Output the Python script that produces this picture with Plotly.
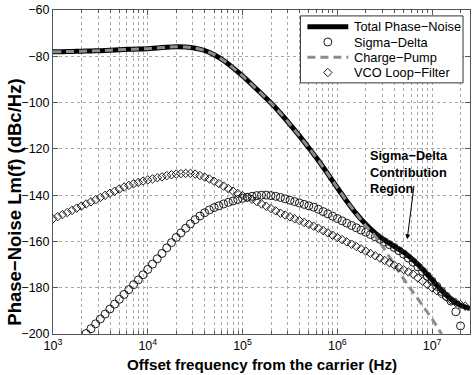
import plotly.graph_objects as go

# ---------------- data ----------------
# log10 of offset frequency (Hz) and phase-noise values (dBc/Hz)
total_logf = [3.0, 3.1, 3.2, 3.3, 3.4, 3.5, 3.6, 3.7, 3.8, 3.9,
              4.0, 4.1, 4.2, 4.3, 4.4, 4.5, 4.6, 4.7, 4.8, 4.9,
              5.0, 5.1, 5.2, 5.3, 5.4, 5.5, 5.6, 5.7, 5.8, 5.9,
              6.0, 6.1, 6.2, 6.3, 6.4, 6.5, 6.6, 6.7, 6.8, 6.9,
              7.0, 7.1, 7.2, 7.3, 7.4]
total_pn = [-78.0, -78.0, -77.9, -77.8, -77.7, -77.6, -77.4, -77.2, -77.0, -76.9,
            -76.7, -76.4, -76.1, -75.9, -76.0, -76.5, -77.5, -79.3, -81.8, -85.0,
            -88.5, -92.3, -96.2, -100.2, -104.6, -109.4, -114.4, -119.6, -125.0, -130.8,
            -136.8, -142.6, -148.0, -152.6, -156.4, -159.5, -162.1, -164.7, -168.0, -172.0,
            -176.6, -181.2, -185.0, -187.6, -189.0]

cp_logf = [3.0, 3.1, 3.2, 3.3, 3.4, 3.5, 3.6, 3.7, 3.8, 3.9,
           4.0, 4.1, 4.2, 4.3, 4.4, 4.5, 4.6, 4.7, 4.8, 4.9,
           5.0, 5.1, 5.2, 5.3, 5.4, 5.5, 5.6, 5.7, 5.8, 5.9,
           6.0, 6.1, 6.2, 6.3, 6.4, 6.5, 6.6, 6.7, 6.8, 6.9,
           7.0, 7.1]
cp_pn = [-78.0, -78.0, -77.9, -77.8, -77.7, -77.6, -77.4, -77.2, -77.0, -76.9,
         -76.7, -76.4, -76.1, -75.9, -76.0, -76.5, -77.5, -79.3, -81.8, -85.0,
         -88.5, -92.3, -96.2, -100.2, -104.6, -109.4, -114.4, -119.6, -125.0, -130.8,
         -136.8, -142.6, -148.0, -153.2, -157.8, -163.5, -169.9, -176.2, -182.0, -187.7,
         -193.5, -200.0]

sd_logf = [3.35, 3.40, 3.45, 3.50, 3.55, 3.60, 3.65, 3.70, 3.75, 3.80,
           3.85, 3.90, 3.95, 4.00, 4.05, 4.10, 4.15, 4.20, 4.25, 4.30,
           4.35, 4.40, 4.45, 4.50, 4.55, 4.60, 4.65, 4.70, 4.75, 4.80,
           4.85, 4.90, 4.95, 5.00, 5.05, 5.10, 5.15, 5.20, 5.25, 5.30,
           5.35, 5.40, 5.45, 5.50, 5.55, 5.60, 5.65, 5.70, 5.75, 5.80,
           5.85, 5.90, 5.95, 6.00, 6.05, 6.10, 6.15, 6.20, 6.25, 6.30,
           6.35, 6.40, 6.45, 6.50, 6.55, 6.60, 6.65, 6.70, 6.75, 6.80,
           6.85, 6.90, 6.95, 7.00, 7.05, 7.10, 7.15, 7.20, 7.25, 7.30]
sd_pn = [-199.8, -197.7, -195.6, -193.5, -191.4, -189.2, -187.1, -185.0, -182.9, -180.8,
         -178.7, -176.6, -174.4, -172.1, -169.8, -167.5, -165.2, -162.8, -160.5, -158.3,
         -156.3, -154.3, -152.4, -150.6, -149.0, -147.6, -146.4, -145.4, -144.6, -143.8,
         -143.1, -142.5, -141.9, -141.4, -140.9, -140.5, -140.2, -140.0, -140.0, -140.2,
         -140.5, -141.0, -141.6, -142.2, -142.8, -143.4, -144.0, -144.6, -145.2, -146.1,
         -147.1, -148.1, -149.1, -150.1, -151.1, -152.1, -153.1, -154.1, -155.1, -156.0,
         -157.0, -158.0, -159.1, -160.2, -161.4, -162.6, -164.0, -165.5, -167.2, -169.0,
         -171.0, -173.0, -175.0, -177.2, -179.4, -181.6, -183.7, -185.8, -190.4, -196.5]

vco_logf = [3.00, 3.05, 3.10, 3.15, 3.20, 3.25, 3.30, 3.35, 3.40, 3.45,
            3.50, 3.55, 3.60, 3.65, 3.70, 3.75, 3.80, 3.85, 3.90, 3.95,
            4.00, 4.05, 4.10, 4.15, 4.20, 4.25, 4.30, 4.35, 4.40, 4.45,
            4.50, 4.55, 4.60, 4.65, 4.70, 4.75, 4.80, 4.85, 4.90, 4.95,
            5.00, 5.05, 5.10, 5.15, 5.20, 5.25, 5.30, 5.35, 5.40, 5.45,
            5.50, 5.55, 5.60, 5.65, 5.70, 5.75, 5.80, 5.85, 5.90, 5.95,
            6.00, 6.05, 6.10, 6.15, 6.20, 6.25, 6.30, 6.35, 6.40, 6.45,
            6.50, 6.55, 6.60, 6.65, 6.70, 6.75, 6.80, 6.85, 6.90, 6.95,
            7.00, 7.05, 7.10, 7.15, 7.20, 7.25, 7.30, 7.35]
vco_pn = [-150.2, -149.3, -148.4, -147.5, -146.6, -145.6, -144.7, -143.8, -142.9, -142.0,
          -141.0, -140.1, -139.2, -138.3, -137.4, -136.5, -135.8, -135.1, -134.5, -133.9,
          -133.4, -133.0, -132.5, -132.1, -131.6, -131.2, -130.9, -130.7, -130.6, -130.6,
          -130.9, -131.5, -132.2, -133.0, -134.0, -135.0, -136.1, -137.2, -138.3, -139.3,
          -140.2, -141.0, -141.8, -142.8, -143.8, -144.8, -145.8, -146.8, -147.8, -148.6,
          -149.4, -150.2, -151.0, -151.8, -152.6, -153.4, -154.3, -155.3, -156.3, -157.3,
          -158.3, -159.2, -160.2, -161.2, -162.2, -163.2, -164.2, -165.2, -166.2, -167.2,
          -168.2, -169.2, -170.2, -171.2, -172.2, -173.2, -174.2, -175.8, -177.2, -178.6,
          -180.0, -181.3, -182.7, -184.0, -185.3, -186.4, -187.3, -188.0]

series_names = ["Total Phase\u2212Noise", "Sigma\u2212Delta", "Charge\u2212Pump", "VCO Loop\u2212Filter"]
x_tick_exp = [3, 4, 5, 6, 7]
y_ticks = [-60, -80, -100, -120, -140, -160, -180, -200]

# ---------------- styling / layout ----------------
FONT = "Liberation Sans, Arial, sans-serif"
W, H = 474, 375
ML, MR, MT, MB = 53, 3, 5, 41
PW, PH = W - ML - MR, H - MT - MB

TOTAL_LINE = dict(color="black", width=5)
CP_LINE = dict(color="#8c8c8c", width=3, dash="8px,5px")
MK_COLOR = "#1a1a1a"


def px2x(px):
    return (px - ML) / PW


def py2y(py):
    return 1 - (py - MT) / PH


def hz(lst):
    return [10 ** v for v in lst]


fig = go.Figure()
fig.add_trace(go.Scatter(x=hz(total_logf), y=total_pn, mode="lines", name=series_names[0],
                         showlegend=False,
                         line=dict(**TOTAL_LINE, shape="spline", smoothing=0.6)))
fig.add_trace(go.Scatter(x=hz(sd_logf), y=sd_pn, mode="markers", name=series_names[1],
                         showlegend=False,
                         marker=dict(symbol="circle-open", size=8, color=MK_COLOR,
                                     line=dict(width=1, color=MK_COLOR))))
fig.add_trace(go.Scatter(x=hz(cp_logf), y=cp_pn, mode="lines", name=series_names[2],
                         showlegend=False,
                         line=dict(**CP_LINE, shape="spline", smoothing=0.6)))
fig.add_trace(go.Scatter(x=hz(vco_logf), y=vco_pn, mode="markers", name=series_names[3],
                         showlegend=False,
                         marker=dict(symbol="diamond-open", size=6.5, color=MK_COLOR,
                                     line=dict(width=1, color=MK_COLOR))))

axis_common = dict(showline=True, linecolor="#555555", linewidth=1, mirror="ticks",
                   ticks="inside", ticklen=5, tickcolor="#555555",
                   showgrid=True, gridcolor="#a8a8a8", griddash="dot", gridwidth=1,
                   zeroline=False, ticklabeloverflow="allow",
                   tickfont=dict(family=FONT, size=12.5, color="black"))

fig.update_xaxes(type="log", range=[3, 7.4],
                 tickvals=[10 ** e for e in x_tick_exp],
                 ticktext=["10<sup>%d</sup>" % e for e in x_tick_exp],
                 minor=dict(ticks="inside", ticklen=3, tickcolor="#555555", dtick="D1",
                            showgrid=True, gridcolor="#a8a8a8", griddash="dot", gridwidth=1),
                 **axis_common)
fig.update_yaxes(range=[-200, -60], tickvals=y_ticks,
                 ticktext=[("\u2212%d" % (-v)) for v in y_ticks],
                 **axis_common)

# ---- legend box (drawn as layout decoration to match compact MATLAB legend) ----
shapes = []
annotations = []
LX0, LX1, LY0, LY1 = 301, 464, 11, 79
shapes.append(dict(type="rect", xref="paper", yref="paper",
                   x0=px2x(LX0), x1=px2x(LX1), y0=py2y(LY1), y1=py2y(LY0),
                   line=dict(color="#333333", width=1), fillcolor="white", layer="above"))
row_y = [22, 37.5, 53, 68.5]
samp_x0, samp_x1, samp_xc, text_x = 308, 349, 328.5, 353
# total line sample
shapes.append(dict(type="line", xref="paper", yref="paper",
                   x0=px2x(samp_x0), x1=px2x(samp_x1), y0=py2y(row_y[0]), y1=py2y(row_y[0]),
                   line=TOTAL_LINE, layer="above"))
# sigma-delta circle sample
shapes.append(dict(type="circle", xref="paper", yref="paper", xsizemode="pixel", ysizemode="pixel",
                   xanchor=px2x(samp_xc), yanchor=py2y(row_y[1]), x0=-4, x1=4, y0=-4, y1=4,
                   line=dict(color=MK_COLOR, width=1), layer="above"))
# charge-pump dashed sample
shapes.append(dict(type="line", xref="paper", yref="paper",
                   x0=px2x(samp_x0), x1=px2x(samp_x1), y0=py2y(row_y[2]), y1=py2y(row_y[2]),
                   line=CP_LINE, layer="above"))
# vco diamond sample
shapes.append(dict(type="path", xref="paper", yref="paper", xsizemode="pixel", ysizemode="pixel",
                   xanchor=px2x(samp_xc), yanchor=py2y(row_y[3]),
                   path="M -4.2 0 L 0 4.2 L 4.2 0 L 0 -4.2 Z",
                   line=dict(color=MK_COLOR, width=1), layer="above"))
for name, ry in zip(series_names, row_y):
    annotations.append(dict(text=name, xref="paper", yref="paper", x=px2x(text_x), y=py2y(ry),
                            xanchor="left", yanchor="middle", showarrow=False,
                            font=dict(family=FONT, size=12.8, color="black")))

annotations += [
    dict(text="<b>Offset frequency from the carrier (Hz)</b>", xref="paper", yref="paper",
         x=0.5, y=py2y(365), xanchor="center", yanchor="middle", showarrow=False,
         font=dict(family=FONT, size=15.2, color="black")),
    dict(text="<b>Phase\u2212Noise Lm(f) (dBc/Hz)</b>", xref="paper", yref="paper",
         x=px2x(1), y=py2y(200), xanchor="left", yanchor="middle", textangle=-90,
         showarrow=False, font=dict(family=FONT, size=18.5, color="black")),
    dict(text="<b>Sigma\u2212Delta<br>Contribution<br>Region</b>", xref="x", yref="y",
         x=6.326, y=-130, xanchor="left", yanchor="middle", align="left",
         showarrow=False, font=dict(family=FONT, size=12.8, color="black")),
    dict(text="", xref="x", yref="y", x=6.737, y=-159.1, ax=7, ay=-55,
         showarrow=True, arrowhead=2, arrowsize=1, arrowwidth=1, arrowcolor="black"),
]

fig.update_layout(
    width=W, height=H,
    margin=dict(l=ML, r=MR, t=MT, b=MB),
    paper_bgcolor="white", plot_bgcolor="white",
    font=dict(family=FONT, color="black"),
    showlegend=False,
    shapes=shapes,
    annotations=annotations,
)

fig.write_html("out.html")
